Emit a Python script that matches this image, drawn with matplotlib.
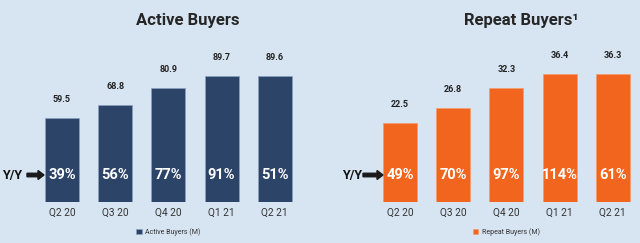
import matplotlib.pyplot as plt
from matplotlib.patches import FancyArrow

quarters = ["Q2 20", "Q3 20", "Q4 20", "Q1 21", "Q2 21"]
active_buyers = [59.5, 68.8, 80.9, 89.7, 89.6]
active_yoy = ["39%", "56%", "77%", "91%", "51%"]
repeat_buyers = [22.5, 26.8, 32.3, 36.4, 36.3]
repeat_yoy = ["49%", "70%", "97%", "114%", "61%"]

BG = "#d7e5f3"
NAVY = "#2c4468"
ORANGE = "#f2651f"
plt.rcParams["font.family"] = ["Roboto", "DejaVu Sans"]

fig = plt.figure(figsize=(6.4, 2.43), dpi=100, facecolor=BG)
W, H = 640, 243


def panel(left_px, values, yoy, color, ymax, title, title_x, legend_label, yy_x, arrow_x0, arrow_x1):
    ax = fig.add_axes([left_px / W, 41 / H, 266 / W, 141 / H])
    ax.set_facecolor(BG)
    x = range(len(values))
    bars = ax.bar(x, values, width=0.64, color=color, edgecolor="#8aa0bf" if color == NAVY else "#f59a6a",
                  linewidth=0.5, label=legend_label)
    ax.set_xlim(-0.5, 4.5)
    ax.set_ylim(0, ymax)
    for b, v, p in zip(bars, values, yoy):
        cx = b.get_x() + b.get_width() / 2
        ax.annotate(f"{v:.1f}", (cx, v), xytext=(0, 10), textcoords="offset points",
                    ha="center", va="bottom", fontsize=6.5, fontweight="bold", color="#222222")
        ax.text(cx, ymax * 0.195, p, ha="center", va="center", fontsize=10.5,
                fontweight="bold", color="white")
    ax.set_xticks(list(x))
    ax.set_xticklabels(quarters, fontsize=7.3, color="#333333")
    ax.tick_params(axis="x", length=0, pad=4)
    ax.set_yticks([])
    for s in ax.spines.values():
        s.set_visible(False)
    leg = ax.legend(loc="upper center", bbox_to_anchor=(0.5, -0.14), frameon=False,
                    fontsize=5, handlelength=0.8, handleheight=0.8, handletextpad=0.5)
    for t in leg.get_texts():
        t.set_color("#333333")
    fig.text(title_x / W, 1 - 21 / H, title, ha="center", va="center",
             fontsize=12, fontweight="bold", color="#262626")
    fig.text(yy_x / W, 1 - 175 / H, "Y/Y", ha="left", va="center",
             fontsize=9, fontweight="bold", color="#111111")
    fig.patches.append(FancyArrow(
        arrow_x0 / W, 1 - 175 / H, (arrow_x1 - arrow_x0) / W, 0, width=3.5 / H,
        head_width=9 / H, head_length=6 / W, length_includes_head=True,
        color="#1a1a1a", transform=fig.transFigure, figure=fig))
    return ax


panel(35.4, active_buyers, active_yoy, NAVY, 100, "Active Buyers", 188,
      "Active Buyers (M)", 2, 27, 44)
panel(373.4, repeat_buyers, repeat_yoy, ORANGE, 40, "Repeat Buyers\u00b9", 521,
      "Repeat Buyers (M)", 342, 363, 383)

fig.savefig("out.png", dpi=100, facecolor=BG)
